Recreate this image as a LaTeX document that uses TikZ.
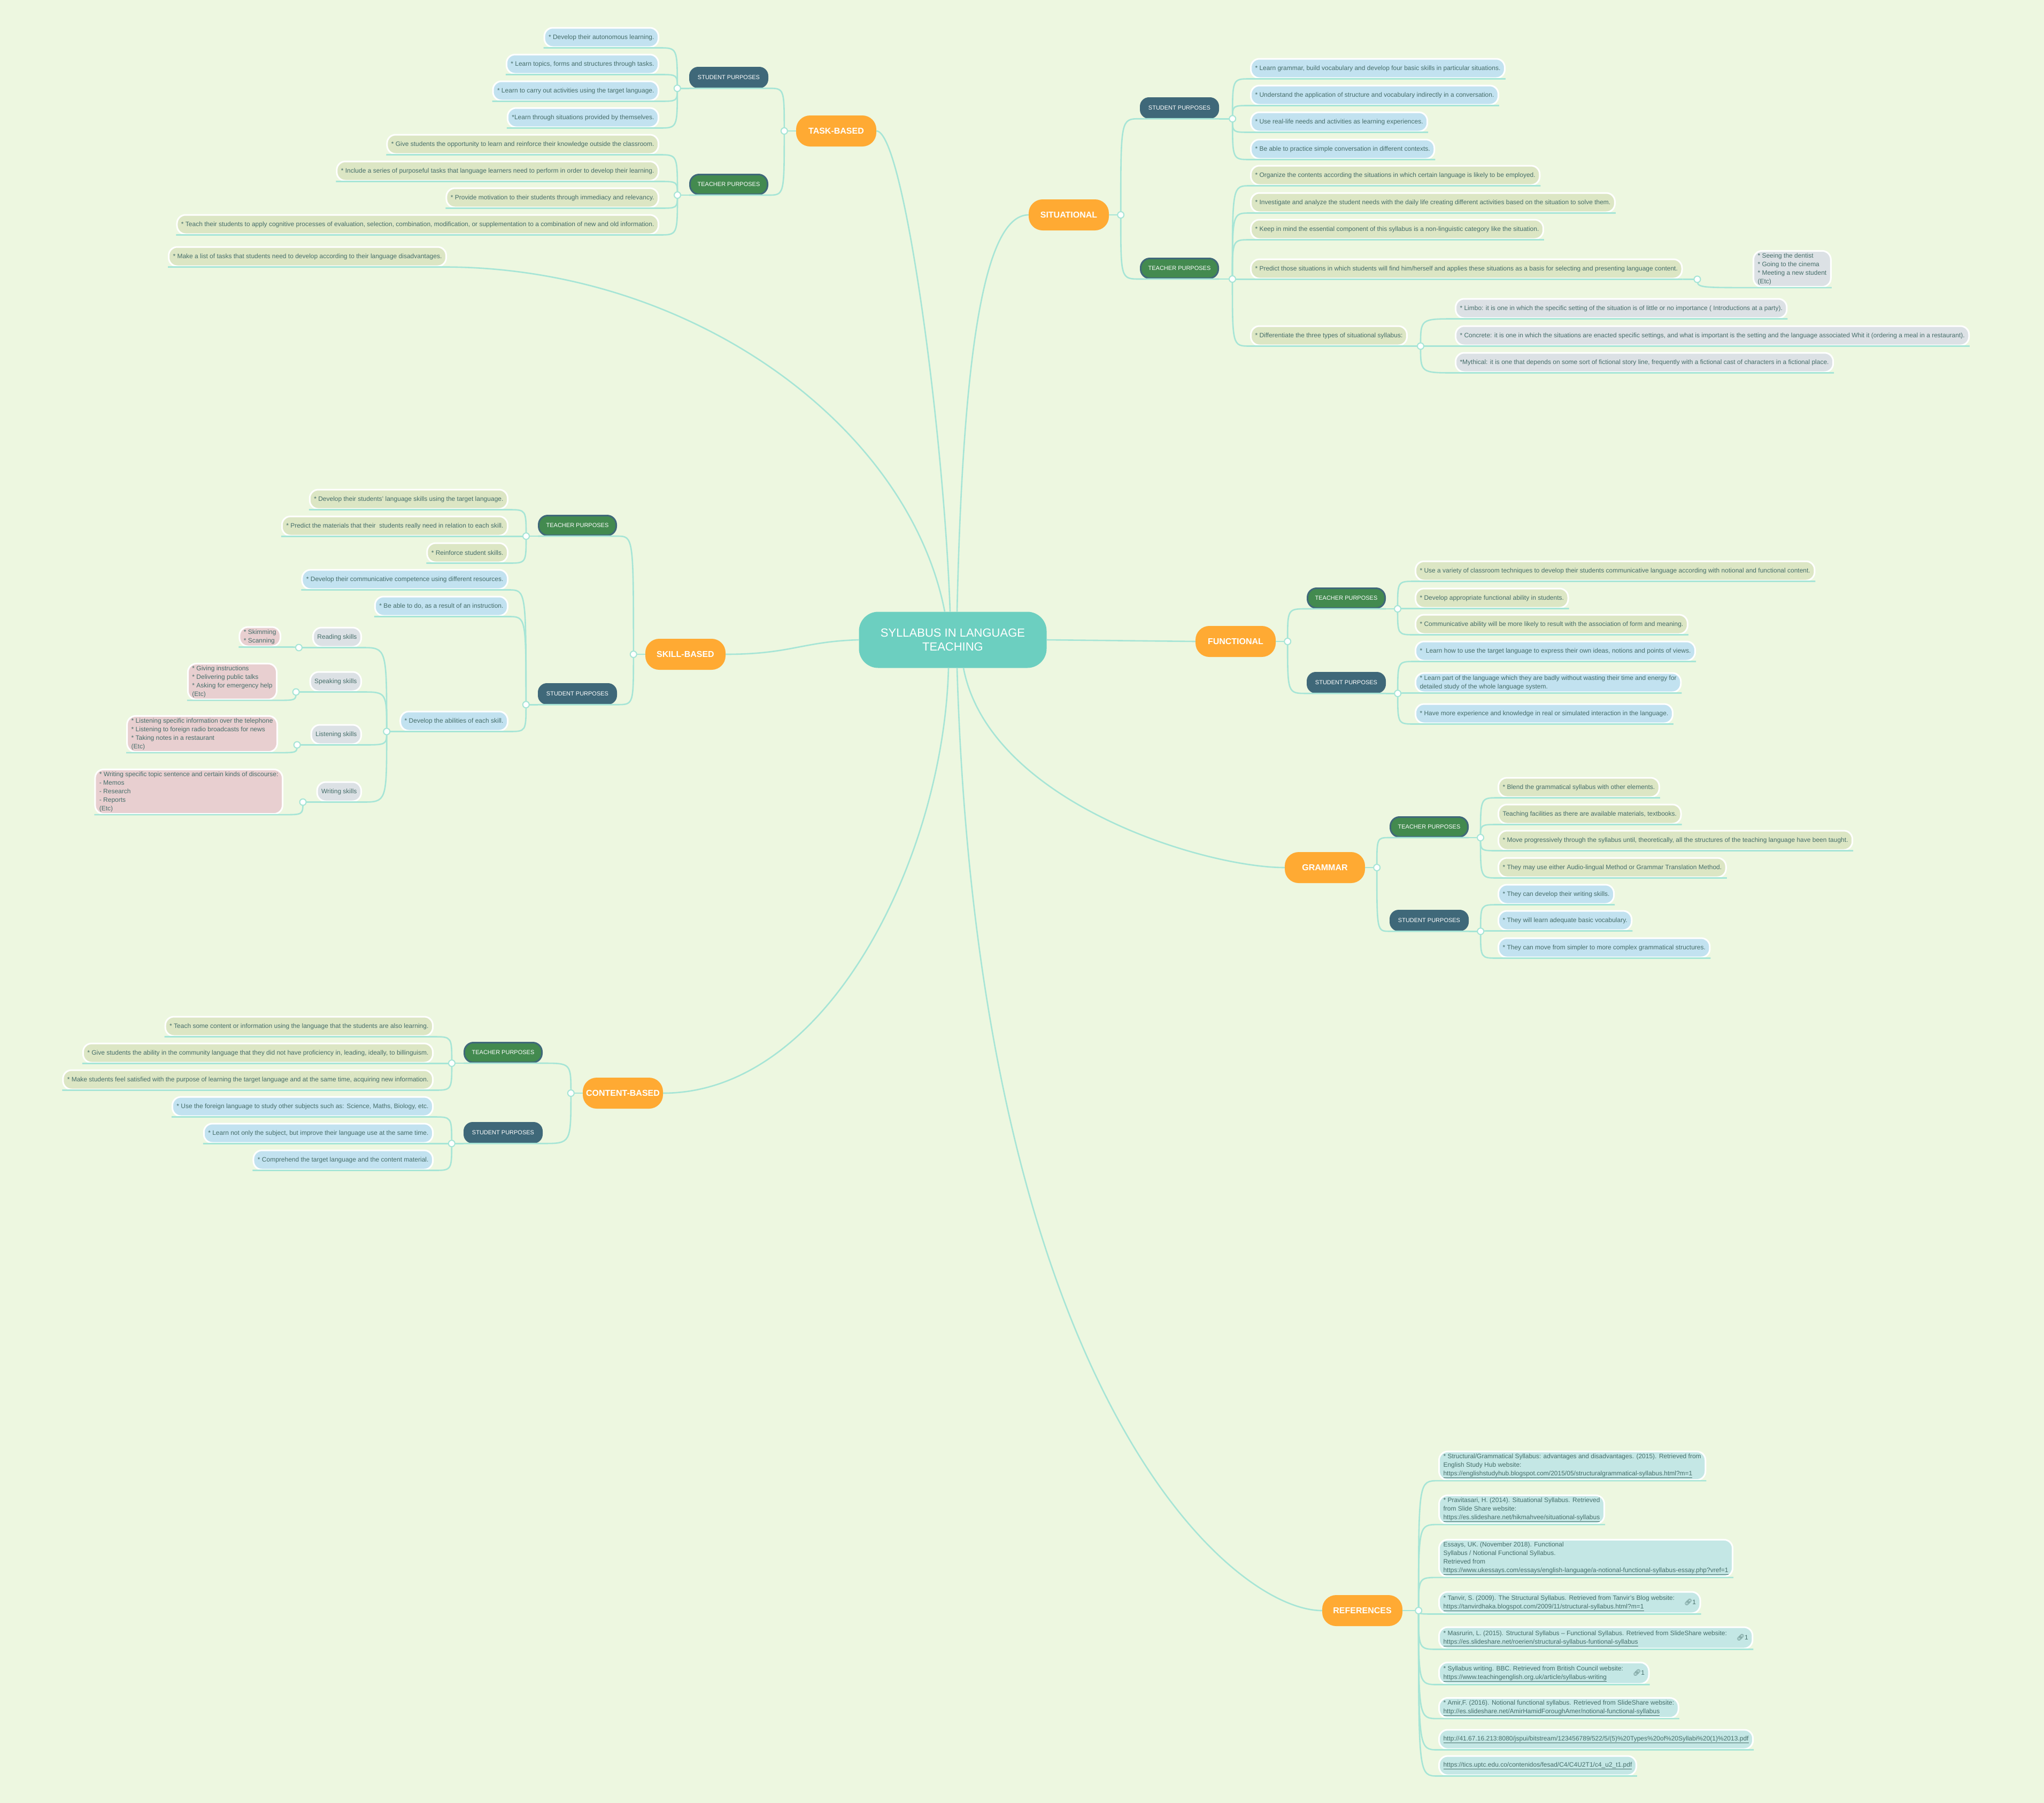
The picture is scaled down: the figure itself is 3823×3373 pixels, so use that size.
\documentclass[tikz,border=0pt]{standalone}
\usepackage{fontspec}
\setmainfont{Liberation Sans}
\newfontfamily\emo{Noto Emoji}
\definecolor{bgc}{HTML}{EDF7E0}
\definecolor{conncol}{HTML}{A6E5D6}
\definecolor{txt}{HTML}{466E6A}
\definecolor{cblue}{HTML}{C2E2F0}
\definecolor{cgreen}{HTML}{DCE6C4}
\definecolor{cgray}{HTML}{DCE1E5}
\definecolor{cpink}{HTML}{E8CFD0}
\definecolor{cref}{HTML}{C4E7E5}
\definecolor{cslate}{HTML}{3F6879}
\definecolor{cdgreen}{HTML}{438A4F}
\definecolor{corange}{HTML}{FFAA33}
\definecolor{cteal}{HTML}{6CCFC0}
\newcommand\mmL[2]{\draw[conn] (#1) .. controls (#1 |- #2.south east) .. (#2.south east) -- (#2.south west);}
\newcommand\mmR[2]{\draw[conn] (#1) .. controls (#1 |- #2.south west) .. (#2.south west) -- (#2.south east);}
\tikzset{
  leaf/.style={rounded corners=16pt, draw=white, line width=3pt, inner xsep=8pt, inner ysep=4pt, minimum height=36pt, font=\fontsize{12}{16}\selectfont, text=txt, align=left},
  lb/.style={leaf, fill=cblue}, lg/.style={leaf, fill=cgreen}, lgr/.style={leaf, fill=cgray},
  lp/.style={leaf, fill=cpink}, lr/.style={leaf, fill=cref},
  sp/.style={fill=cslate, text=white, rounded corners=17pt, minimum width=148pt, minimum height=40pt, font=\fontsize{11}{13}\selectfont},
  tp/.style={sp, fill=cdgreen, draw=cslate, line width=3pt, minimum width=145pt, minimum height=37pt},
  br/.style={fill=corange, text=white, rounded corners=26pt, minimum width=150pt, minimum height=58pt, font=\fontsize{16}{18}\selectfont\bfseries},
  cen/.style={fill=cteal, text=white, rounded corners=36pt, minimum width=351pt, minimum height=105pt, font=\fontsize{22}{26}\selectfont, align=center},
  conn/.style={draw=conncol, line width=2.6pt},
  jn/.style={draw=conncol, fill=white, line width=2pt}
}
\begin{document}
\begin{tikzpicture}[x=1pt,y=-1pt]
\fill[bgc] (0,0) rectangle (3823,3373);
\useasboundingbox (0,0) rectangle (3823,3373);

% ---------- centre
\node[cen] (CEN) at (1782,1197) {SYLLABUS IN LANGUAGE\\TEACHING};

% ---------- TASK-BASED
\node[br] (TB) at (1564,245) {TASK-BASED};
\node[sp] (TSP) at (1363,145) {STUDENT PURPOSES};
\node[tp] (TTP) at (1363,345) {TEACHER PURPOSES};
\node[lb,anchor=east] (ts1) at (1233,70) {* Develop their autonomous learning.};
\node[lb,anchor=east] (ts2) at (1233,120) {* Learn topics, forms and structures through tasks.};
\node[lb,anchor=east] (ts3) at (1233,170) {* Learn to carry out activities using the target language.};
\node[lb,anchor=east] (ts4) at (1233,220) {*Learn through situations provided by themselves.};
\node[lg,anchor=east] (tt1) at (1233,270) {* Give students the opportunity to learn and reinforce their knowledge outside the classroom.};
\node[lg,anchor=east] (tt2) at (1233,320) {* Include a series of purposeful tasks that language learners need to perform in order to develop their learning.};
\node[lg,anchor=east] (tt3) at (1233,370) {* Provide motivation to their students through immediacy and relevancy.};
\node[lg,anchor=east] (tt4) at (1233,420) {* Teach their students to apply cognitive processes of evaluation, selection, combination, modification, or supplementation to a combination of new and old information.};
\node[lg,anchor=east] (ML) at (836,480) {* Make a list of tasks that students need to develop according to their language disadvantages.};

% ---------- SITUATIONAL
\node[br] (SIT) at (1999,402) {SITUATIONAL};
\node[sp] (SSP) at (2206,202) {STUDENT PURPOSES};
\node[tp] (STP) at (2206,502) {TEACHER PURPOSES};
\node[lb,anchor=west] (ss1) at (2338,128) {* Learn grammar, build vocabulary and develop four basic skills in particular situations.};
\node[lb,anchor=west] (ss2) at (2338,178) {* Understand the application of structure and vocabulary indirectly in a conversation.};
\node[lb,anchor=west] (ss3) at (2338,228) {* Use real-life needs and activities as learning experiences.};
\node[lb,anchor=west] (ss4) at (2338,279) {* Be able to practice simple conversation in different contexts.};
\node[lg,anchor=west] (st1) at (2338,328) {* Organize the contents according the situations in which certain language is likely to be employed.};
\node[lg,anchor=west] (st2) at (2338,379) {* Investigate and analyze the student needs with the daily life creating different activities based on the situation to solve them.};
\node[lg,anchor=west] (st3) at (2338,429) {* Keep in mind the essential component of this syllabus is a non-linguistic category like the situation.};
\node[lg,anchor=west] (st4) at (2338,503) {* Predict those situations in which students will find him/herself and applies these situations as a basis for selecting and presenting language content.};
\node[lg,anchor=west] (st5) at (2338,628) {* Differentiate the three types of situational syllabus:};
\node[lgr,anchor=west] (gy1) at (3278,503) {* Seeing the dentist\\* Going to the cinema\\* Meeting a new student\\(Etc)};
\node[lgr,anchor=west] (lim) at (2721,577) {* Limbo: it is one in which the specific setting of the situation is of little or no importance ( Introductions at a party).};
\node[lgr,anchor=west] (con) at (2721,628) {* Concrete: it is one in which the situations are enacted specific settings, and what is important is the setting and the language associated Whit it (ordering a meal in a restaurant).};
\node[lgr,anchor=west] (myt) at (2721,678) {*Mythical: it is one that depends on some sort of fictional story line, frequently with a fictional cast of characters in a fictional place.};

% ---------- SKILL-BASED
\node[br] (SB) at (1282,1224) {SKILL-BASED};
\node[tp] (KTP) at (1080,983) {TEACHER PURPOSES};
\node[sp] (KSP) at (1080,1298) {STUDENT PURPOSES};
\node[lg,anchor=east] (kt1) at (951,934) {* Develop their students' language skills using the target language.};
\node[lg,anchor=east] (kt2) at (951,984) {* Predict the materials that their\ \ students really need in relation to each skill.};
\node[lg,anchor=east] (kt3) at (951,1034) {* Reinforce student skills.};
\node[lb,anchor=east] (ks1) at (951,1084) {* Develop their communicative competence using different resources.};
\node[lb,anchor=east] (ks2) at (951,1134) {* Be able to do, as a result of an instruction.};
\node[lb,anchor=east] (ks3) at (951,1349) {* Develop the abilities of each skill.};
\node[lgr,anchor=east] (rd) at (677,1192) {Reading skills};
\node[lgr,anchor=east] (spk) at (677,1275) {Speaking skills};
\node[lgr,anchor=east] (lis) at (677,1374) {Listening skills};
\node[lgr,anchor=east] (wri) at (677,1481) {Writing skills};
\node[lp,anchor=east] (prd) at (526,1191) {* Skimming\\* Scanning};
\node[lp,anchor=east] (psp) at (519,1275) {* Giving instructions\\* Delivering public talks\\* Asking for emergency help\\(Etc)};
\node[lp,anchor=east] (pls) at (520,1373) {* Listening specific information over the telephone\\* Listening to foreign radio broadcasts for news\\* Taking notes in a restaurant\\(Etc)};
\node[lp,anchor=east] (pwr) at (530,1481) {* Writing specific topic sentence and certain kinds of discourse:\\- Memos\\- Research\\- Reports\\(Etc)};

% ---------- CONTENT-BASED
\node[br] (CB) at (1165,2045) {CONTENT-BASED};
\node[tp] (CTP) at (941,1969) {TEACHER PURPOSES};
\node[sp] (CSP) at (941,2119) {STUDENT PURPOSES};
\node[lg,anchor=east] (ct1) at (811,1920) {* Teach some content or information using the language that the students are also learning.};
\node[lg,anchor=east] (ct2) at (811,1970) {* Give students the ability in the community language that they did not have proficiency in, leading, ideally, to billinguism.};
\node[lg,anchor=east] (ct3) at (811,2020) {* Make students feel satisfied with the purpose of learning the target language and at the same time, acquiring new information.};
\node[lb,anchor=east] (cs1) at (811,2070) {* Use the foreign language to study other subjects such as: Science, Maths, Biology, etc.};
\node[lb,anchor=east] (cs2) at (811,2120) {* Learn not only the subject, but improve their language use at the same time.};
\node[lb,anchor=east] (cs3) at (811,2170) {* Comprehend the target language and the content material.};

% ---------- FUNCTIONAL
\node[br] (FUN) at (2311,1200) {FUNCTIONAL};
\node[tp] (FTP) at (2518,1119) {TEACHER PURPOSES};
\node[sp] (FSP) at (2518,1277) {STUDENT PURPOSES};
\node[lg,anchor=west] (ft1) at (2646,1068) {* Use a variety of classroom techniques to develop their students communicative language according with notional and functional content.};
\node[lg,anchor=west] (ft2) at (2646,1119) {* Develop appropriate functional ability in students.};
\node[lg,anchor=west] (ft3) at (2646,1168) {* Communicative ability will be more likely to result with the association of form and meaning.};
\node[lb,anchor=west] (fs1) at (2646,1218) {*\ \ Learn how to use the target language to express their own ideas, notions and points of views.};
\node[lb,anchor=west] (fs2) at (2646,1277) {* Learn part of the language which they are badly without wasting their time and energy for\\detailed study of the whole language system.};
\node[lb,anchor=west] (fs3) at (2646,1335) {* Have more experience and knowledge in real or simulated interaction in the language.};

% ---------- GRAMMAR
\node[br] (GR) at (2478,1623) {GRAMMAR};
\node[tp] (GTP) at (2673,1547) {TEACHER PURPOSES};
\node[sp] (GSP) at (2673,1722) {STUDENT PURPOSES};
\node[lg,anchor=west] (gt1) at (2801,1473) {* Blend the grammatical syllabus with other elements.};
\node[lg,anchor=west] (gt2) at (2801,1523) {Teaching facilities as there are available materials, textbooks.};
\node[lg,anchor=west] (gt3) at (2801,1572) {* Move progressively through the syllabus until, theoretically, all the structures of the teaching language have been taught.};
\node[lg,anchor=west] (gt4) at (2801,1623) {* They may use either Audio-lingual Method or Grammar Translation Method.};
\node[lb,anchor=west] (gs1) at (2801,1673) {* They can develop their writing skills.};
\node[lb,anchor=west] (gs2) at (2801,1722) {* They will learn adequate basic vocabulary.};
\node[lb,anchor=west] (gs3) at (2801,1773) {* They can move from simpler to more complex grammatical structures.};

% ---------- REFERENCES
\node[br] (REF) at (2548,3013) {REFERENCES};
\node[lr,anchor=west] (r1) at (2690,2742) {* Structural/Grammatical Syllabus: advantages and disadvantages. (2015). Retrieved from\\English Study Hub website:\\\underline{https://englishstudyhub.blogspot.com/2015/05/structuralgrammatical-syllabus.html?m=1}};
\node[lr,anchor=west] (r2) at (2690,2824) {* Pravitasari, H. (2014). Situational Syllabus. Retrieved\\from Slide Share website:\\\underline{https://es.slideshare.net/hikmahvee/situational-syllabus}};
\node[lr,anchor=west] (r3) at (2690,2915) {Essays, UK. (November 2018). Functional\\Syllabus / Notional Functional Syllabus.\\Retrieved from\\\underline{https://www.ukessays.com/essays/english-language/a-notional-functional-syllabus-essay.php?vref=1}};
\node[lr,anchor=west] (r4) at (2690,2998) {\begin{tabular}{@{}l@{}}* Tanvir, S. (2009). The Structural Syllabus. Retrieved from Tanvir's Blog website:\\\underline{https://tanvirdhaka.blogspot.com/2009/11/structural-syllabus.html?m=1}\end{tabular}\hspace{18pt}{\emo 🔗}1};
\node[lr,anchor=west] (r5) at (2690,3064) {\begin{tabular}{@{}l@{}}* Masrurin, L. (2015). Structural Syllabus -- Functional Syllabus. Retrieved from SlideShare website:\\\underline{https://es.slideshare.net/roerien/structural-syllabus-funtional-syllabus}\end{tabular}\hspace{18pt}{\emo 🔗}1};
\node[lr,anchor=west] (r6) at (2690,3130) {\begin{tabular}{@{}l@{}}* Syllabus writing. BBC. Retrieved from British Council website:\\\underline{https://www.teachingenglish.org.uk/article/syllabus-writing}\end{tabular}\hspace{18pt}{\emo 🔗}1};
\node[lr,anchor=west] (r7) at (2690,3195) {* Amir,F. (2016). Notional functional syllabus. Retrieved from SlideShare website:\\\underline{http://es.slideshare.net/AmirHamidForoughAmer/notional-functional-syllabus}};
\node[lr,anchor=west] (r8) at (2690,3254) {\underline{http://41.67.16.213:8080/jspui/bitstream/123456789/522/5/(5)\%20Types\%20of\%20Syllabi\%20(1)\%2013.pdf}};
\node[lr,anchor=west] (r9) at (2690,3303) {\underline{https://tics.uptc.edu.co/contenidos/fesad/C4/C4U2T1/c4\_u2\_t1.pdf}};

% ---------- junction coordinates
\coordinate (jTB) at ([xshift=-22pt]TB.west);
\coordinate (jTSP) at ([xshift=-22pt]TSP.south west);
\coordinate (jTTP) at ([xshift=-22pt]TTP.south west);
\coordinate (jSIT) at ([xshift=22pt]SIT.east);
\coordinate (jSSP) at ([xshift=25pt]SSP.south east);
\coordinate (jSTP) at ([xshift=25pt]STP.south east);
\coordinate (jst4) at ([xshift=27pt]st4.south east);
\coordinate (jst5) at ([xshift=24pt]st5.south east);
\coordinate (jSB) at ([xshift=-22pt]SB.west);
\coordinate (jKTP) at ([xshift=-22pt]KTP.south west);
\coordinate (jKSP) at ([xshift=-22pt]KSP.south west);
\coordinate (jks3) at ([xshift=-24pt]ks3.south west);
\coordinate (jrd) at ([xshift=-25pt]rd.south west);
\coordinate (jspk) at ([xshift=-25pt]spk.south west);
\coordinate (jlis) at ([xshift=-25pt]lis.south west);
\coordinate (jwri) at ([xshift=-25pt]wri.south west);
\coordinate (jCB) at ([xshift=-22pt]CB.west);
\coordinate (jCTP) at ([xshift=-22pt]CTP.south west);
\coordinate (jCSP) at ([xshift=-22pt]CSP.south west);
\coordinate (jFUN) at ([xshift=22pt]FUN.east);
\coordinate (jFTP) at ([xshift=22pt]FTP.south east);
\coordinate (jFSP) at ([xshift=22pt]FSP.south east);
\coordinate (jGR) at ([xshift=22pt]GR.east);
\coordinate (jGTP) at ([xshift=22pt]GTP.south east);
\coordinate (jGSP) at ([xshift=22pt]GSP.south east);
\coordinate (jREF) at ([xshift=30pt]REF.east);

% ---------- connectors from centre
\draw[conn] (TB.east) .. controls (1690,245) and (1765,800) .. ([xshift=-5pt]CEN.north);
\draw[conn] ([xshift=8pt]CEN.north) .. controls (1800,700) and (1835,402) .. (SIT.west);
\draw[conn] (ML.south west) -- (ML.south east) .. controls (1300,502) and (1700,800) .. ([xshift=-15pt]CEN.north);
\draw[conn] (SB.east) .. controls (1480,1224) and (1500,1200) .. (CEN.west);
\draw[conn] (CB.east) .. controls (1550,2045) and (1765,1600) .. ([xshift=-8pt]CEN.south);
\draw[conn] (CEN.east) -- (FUN.west);
\draw[conn] ([xshift=20pt]CEN.south) .. controls (1850,1500) and (2250,1623) .. (GR.west);
\draw[conn] ([xshift=8pt]CEN.south) .. controls (1830,2600) and (2300,3013) .. (REF.west);

% ---------- branch connectors
\draw[conn] (TB.west) -- (jTB);
\mmL{jTB}{TSP} \mmL{jTB}{TTP}
\draw[conn] (TSP.south west) -- (jTSP); \draw[conn] (TTP.south west) -- (jTTP);
\mmL{jTSP}{ts1} \mmL{jTSP}{ts2} \mmL{jTSP}{ts3} \mmL{jTSP}{ts4}
\mmL{jTTP}{tt1} \mmL{jTTP}{tt2} \mmL{jTTP}{tt3} \mmL{jTTP}{tt4}

\draw[conn] (SIT.east) -- (jSIT);
\mmR{jSIT}{SSP} \mmR{jSIT}{STP}
\draw[conn] (SSP.south east) -- (jSSP); \draw[conn] (STP.south east) -- (jSTP);
\mmR{jSSP}{ss1} \mmR{jSSP}{ss2} \mmR{jSSP}{ss3} \mmR{jSSP}{ss4}
\mmR{jSTP}{st1} \mmR{jSTP}{st2} \mmR{jSTP}{st3} \mmR{jSTP}{st4} \mmR{jSTP}{st5}
\draw[conn] (st4.south east) -- (jst4); \mmR{jst4}{gy1}
\draw[conn] (st5.south east) -- (jst5);
\mmR{jst5}{lim} \mmR{jst5}{con} \mmR{jst5}{myt}

\draw[conn] (SB.west) -- (jSB);
\mmL{jSB}{KTP} \mmL{jSB}{KSP}
\draw[conn] (KTP.south west) -- (jKTP); \draw[conn] (KSP.south west) -- (jKSP);
\mmL{jKTP}{kt1} \mmL{jKTP}{kt2} \mmL{jKTP}{kt3}
\mmL{jKSP}{ks1} \mmL{jKSP}{ks2} \mmL{jKSP}{ks3}
\draw[conn] (ks3.south west) -- (jks3);
\mmL{jks3}{rd} \mmL{jks3}{spk} \mmL{jks3}{lis} \mmL{jks3}{wri}
\draw[conn] (rd.south west) -- (jrd); \mmL{jrd}{prd}
\draw[conn] (spk.south west) -- (jspk); \mmL{jspk}{psp}
\draw[conn] (lis.south west) -- (jlis); \mmL{jlis}{pls}
\draw[conn] (wri.south west) -- (jwri); \mmL{jwri}{pwr}

\draw[conn] (CB.west) -- (jCB);
\mmL{jCB}{CTP} \mmL{jCB}{CSP}
\draw[conn] (CTP.south west) -- (jCTP); \draw[conn] (CSP.south west) -- (jCSP);
\mmL{jCTP}{ct1} \mmL{jCTP}{ct2} \mmL{jCTP}{ct3}
\mmL{jCSP}{cs1} \mmL{jCSP}{cs2} \mmL{jCSP}{cs3}

\draw[conn] (FUN.east) -- (jFUN);
\mmR{jFUN}{FTP} \mmR{jFUN}{FSP}
\draw[conn] (FTP.south east) -- (jFTP); \draw[conn] (FSP.south east) -- (jFSP);
\mmR{jFTP}{ft1} \mmR{jFTP}{ft2} \mmR{jFTP}{ft3}
\mmR{jFSP}{fs1} \mmR{jFSP}{fs2} \mmR{jFSP}{fs3}

\draw[conn] (GR.east) -- (jGR);
\mmR{jGR}{GTP} \mmR{jGR}{GSP}
\draw[conn] (GTP.south east) -- (jGTP); \draw[conn] (GSP.south east) -- (jGSP);
\mmR{jGTP}{gt1} \mmR{jGTP}{gt2} \mmR{jGTP}{gt3} \mmR{jGTP}{gt4}
\mmR{jGSP}{gs1} \mmR{jGSP}{gs2} \mmR{jGSP}{gs3}

\draw[conn] (REF.east) -- (jREF);
\mmR{jREF}{r1} \mmR{jREF}{r2} \mmR{jREF}{r3} \mmR{jREF}{r4} \mmR{jREF}{r5}
\mmR{jREF}{r6} \mmR{jREF}{r7} \mmR{jREF}{r8} \mmR{jREF}{r9}

% ---------- junction circles
\foreach \j in {jTB,jTSP,jTTP,jSIT,jSSP,jSTP,jst4,jst5,jSB,jKTP,jKSP,jks3,jrd,jspk,jlis,jwri,jCB,jCTP,jCSP,jFUN,jFTP,jFSP,jGR,jGTP,jGSP,jREF}
  \draw[jn] (\j) circle[radius=6pt];
\end{tikzpicture}
\end{document}
